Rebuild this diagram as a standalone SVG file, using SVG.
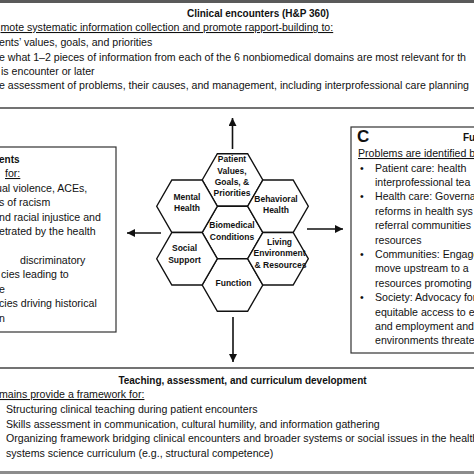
<svg xmlns="http://www.w3.org/2000/svg" xmlns:xlink="http://www.w3.org/1999/xlink" width="474" height="474" viewBox="0 0 474 474">
<defs>
<style>
text{font-family:"Liberation Sans",Arial,sans-serif;fill:#111;}
.t{font-size:10.6px;}
.b{font-size:10px;font-weight:bold;}
.u{text-decoration:underline;}
.h{font-size:8.5px;font-weight:bold;text-anchor:middle;}
.hex{fill:#fff;stroke:#111;stroke-width:1.4;}
.box{fill:#fff;stroke:#333;stroke-width:1.2;}
.div{stroke:#444;stroke-width:1.5;}
.con{stroke:#111;stroke-width:1.6;fill:none;marker-end:url(#ah);}
</style>
<marker id="ah" markerUnits="userSpaceOnUse" markerWidth="9" markerHeight="8" refX="8" refY="4" orient="auto">
<path d="M0,0 L8,4 L0,8 Z" fill="#111"/>
</marker>
<polygon id="hx" class="hex" points="-30.3,0 -15.15,-26.25 15.15,-26.25 30.3,0 15.15,26.25 -15.15,26.25"/>
</defs>
<rect width="474" height="474" fill="#fff"/>
<rect x="0" y="0" width="474" height="3" fill="#5a5a5a"/>
<rect x="0" y="471" width="474" height="3" fill="#8c8c8c"/>

<g id="clinical-encounters">
<text class="b" x="258" y="17" text-anchor="middle">Clinical encounters (H&amp;P 360)</text>
<text class="t u" x="0.5" y="31">mote systematic information collection and promote rapport-building to:</text>
<text class="t" x="-1" y="45.5">ents’ values, goals, and priorities</text>
<text class="t" x="-1" y="60.5">e what 1–2 pieces of information from each of the 6 nonbiomedical domains are most relevant for th</text>
<text class="t" x="1" y="75">is encounter or later</text>
<text class="t" x="-1" y="89">e assessment of problems, their causes, and management, including interprofessional care planning</text>
<line class="div" x1="0" y1="108" x2="474" y2="108"/>
</g>

<g id="teaching">
<line class="div" x1="0" y1="368" x2="474" y2="368"/>
<text class="b" x="242.5" y="384" text-anchor="middle">Teaching, assessment, and curriculum development</text>
<text class="t u" x="-1" y="398">mains provide a framework for:</text>
<text class="t" x="6" y="413">Structuring clinical teaching during patient encounters</text>
<text class="t" x="6" y="427.5">Skills assessment in communication, cultural humility, and information gathering</text>
<text class="t" x="6" y="442">Organizing framework bridging clinical encounters and broader systems or social issues in the health</text>
<text class="t" x="6" y="456.5">systems science curriculum (e.g., structural competence)</text>
</g>

<g id="left-box">
<rect class="box" x="-5" y="147" width="121" height="185"/>
<text class="b" x="-1" y="163">ents</text>
<text class="t u" x="5" y="177">for:</text>
<text class="t" x="-4" y="191.5">ual violence, ACEs,</text>
<text class="t" x="-1" y="206">s of racism</text>
<text class="t" x="-1" y="220.5">nd racial injustice and</text>
<text class="t" x="-1" y="235">etrated by the health</text>
<text class="t" x="20" y="264">discriminatory</text>
<text class="t" x="1" y="278">cies leading to</text>
<text class="t" x="-1" y="292.5">e</text>
<text class="t" x="-1" y="307">cies driving historical</text>
<text class="t" x="-1" y="321.5">n</text>
</g>

<g id="right-box">
<rect class="box" x="351" y="127" width="130" height="226"/>
<text x="357" y="142" style="font-size:17px;font-weight:bold;">C</text>
<text class="b" x="463" y="141">Fut</text>
<text class="t u" x="358" y="157">Problems are identified b</text>
<text class="t" x="360" y="171.5">•</text>
<text class="t" x="375" y="171.5">Patient care: health</text>
<text class="t" x="375" y="185.9">interprofessional tea</text>
<text class="t" x="360" y="200.3">•</text>
<text class="t" x="375" y="200.3">Health care: Governa</text>
<text class="t" x="375" y="214.7">reforms in health sys</text>
<text class="t" x="375" y="229.1">referral communities</text>
<text class="t" x="375" y="243.5">resources</text>
<text class="t" x="360" y="257.9">•</text>
<text class="t" x="375" y="257.9">Communities: Engage</text>
<text class="t" x="375" y="272.3">move upstream to a</text>
<text class="t" x="375" y="286.7">resources promoting</text>
<text class="t" x="360" y="301.1">•</text>
<text class="t" x="375" y="301.1">Society: Advocacy for</text>
<text class="t" x="375" y="315.5">equitable access to e</text>
<text class="t" x="375" y="329.9">and employment and</text>
<text class="t" x="375" y="344.3">environments threate</text>
</g>

<g id="connectors">
<line class="con" x1="232.5" y1="149" x2="232.5" y2="118"/>
<line class="con" x1="161" y1="233" x2="127" y2="233"/>
<line class="con" x1="307" y1="229" x2="343" y2="229"/>
<line class="con" x1="233" y1="317" x2="233" y2="362"/>
</g>

<g id="hex-patient">
<use xlink:href="#hx" x="232.5" y="180"/>
<text class="h" x="232" y="162">Patient</text>
<text class="h" x="232" y="173.7">Values,</text>
<text class="h" x="232" y="185.3">Goals, &amp;</text>
<text class="h" x="232" y="196.3">Priorities</text>
</g>
<g id="hex-biomedical">
<use xlink:href="#hx" x="232.5" y="232.5"/>
<text class="h" x="232" y="228">Biomedical</text>
<text class="h" x="232" y="239.7">Conditions</text>
</g>
<g id="hex-function">
<use xlink:href="#hx" x="232.5" y="285"/>
<text class="h" x="233.5" y="286.3">Function</text>
</g>
<g id="hex-mental">
<use xlink:href="#hx" x="187" y="206.25"/>
<text class="h" x="187" y="200.3">Mental</text>
<text class="h" x="187" y="211">Health</text>
</g>
<g id="hex-social">
<use xlink:href="#hx" x="187" y="258.75"/>
<text class="h" x="184.5" y="251.3">Social</text>
<text class="h" x="184.5" y="263">Support</text>
</g>
<g id="hex-behavioral">
<use xlink:href="#hx" x="278" y="206.25"/>
<text class="h" x="276" y="202">Behavioral</text>
<text class="h" x="276" y="213">Health</text>
</g>
<g id="hex-living">
<use xlink:href="#hx" x="278" y="258.75"/>
<text class="h" x="279.5" y="244.7">Living</text>
<text class="h" x="279.5" y="256.3">Environment</text>
<text class="h" x="280.5" y="268">&amp; Resources</text>
</g>
</svg>
